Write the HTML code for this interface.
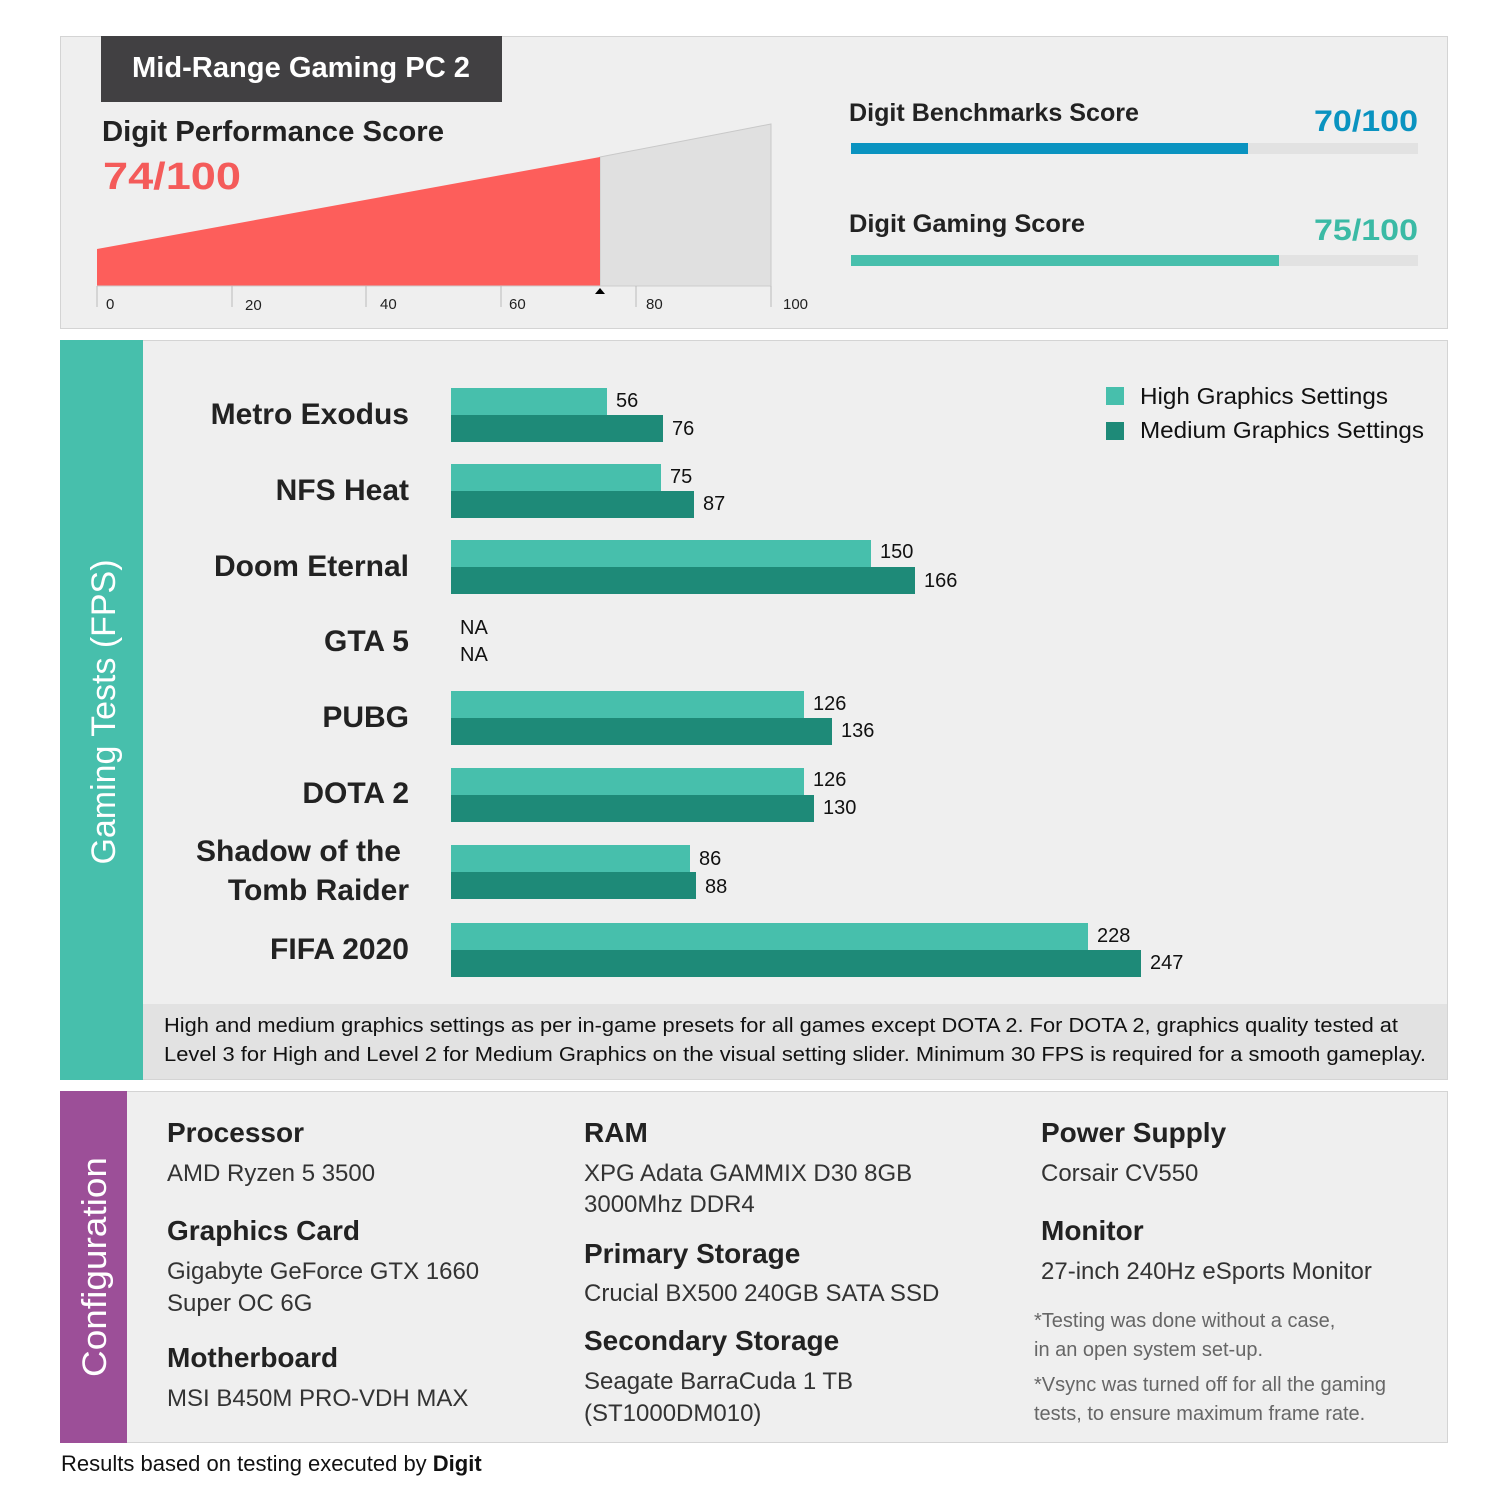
<!DOCTYPE html>
<html><head><meta charset="utf-8"><style>
body{margin:0;background:#fff}
svg{display:block;font-family:"Liberation Sans",sans-serif}
</style></head><body>
<svg width="1500" height="1500" viewBox="0 0 1500 1500">
<!-- top panel -->
<rect x="60.5" y="36.5" width="1387" height="292" fill="#efefef" stroke="#d4d4d4"/>
<rect x="101" y="36" width="401" height="66" fill="#414042"/>
<text x="132" y="77" font-size="29" font-weight="bold" fill="#fff" textLength="338" lengthAdjust="spacingAndGlyphs">Mid-Range Gaming PC 2</text>
<text x="102" y="141" font-size="29" font-weight="bold" fill="#222" textLength="342" lengthAdjust="spacingAndGlyphs">Digit Performance Score</text>
<text x="103" y="189" font-size="38" font-weight="bold" fill="#f45b5a" textLength="138" lengthAdjust="spacingAndGlyphs">74/100</text>
<polygon points="600,157 771,124 771,286 600,286" fill="#e0e0e0" stroke="#c8c8c8"/>
<polygon points="97,249 600,157 600,286 97,286" fill="#fd5e5b"/>
<line x1="97" y1="286" x2="771" y2="286" stroke="#ccc"/>
<g stroke="#bbb"><line x1="97" y1="286" x2="97" y2="307"/><line x1="232" y1="286" x2="232" y2="307"/><line x1="366" y1="286" x2="366" y2="307"/><line x1="501" y1="286" x2="501" y2="307"/><line x1="636" y1="286" x2="636" y2="307"/><line x1="771" y1="286" x2="771" y2="307"/></g>
<polygon points="600,288 595,294 605,294" fill="#000"/>
<g font-size="15" fill="#222"><text x="106" y="309">0</text><text x="245" y="310">20</text><text x="380" y="309">40</text><text x="509" y="309">60</text><text x="646" y="309">80</text><text x="783" y="309">100</text></g>
<text x="849" y="121" font-size="25" font-weight="bold" fill="#222" textLength="290" lengthAdjust="spacingAndGlyphs">Digit Benchmarks Score</text>
<text x="1314" y="131" font-size="30" font-weight="bold" fill="#0a93c0" textLength="104" lengthAdjust="spacingAndGlyphs">70/100</text>
<rect x="851" y="143" width="567" height="11" fill="#e2e2e2"/><rect x="851" y="143" width="397" height="11" fill="#0a93c0"/>
<text x="849" y="232" font-size="25" font-weight="bold" fill="#222" textLength="236" lengthAdjust="spacingAndGlyphs">Digit Gaming Score</text>
<text x="1314" y="240" font-size="30" font-weight="bold" fill="#3bbaa5" textLength="104" lengthAdjust="spacingAndGlyphs">75/100</text>
<rect x="851" y="255" width="567" height="11" fill="#e2e2e2"/><rect x="851" y="255" width="428" height="11" fill="#47bfac"/>

<!-- gaming panel -->
<rect x="60.5" y="340.5" width="1387" height="739" fill="#efefef" stroke="#d4d4d4"/>
<rect x="60" y="340" width="83" height="740" fill="#47bfac"/>
<text transform="translate(115,712) rotate(-90)" text-anchor="middle" font-size="34" fill="#fff" textLength="305" lengthAdjust="spacingAndGlyphs">Gaming Tests (FPS)</text>
<rect x="143" y="1004" width="1304" height="75" fill="#e2e2e2"/>
<g font-size="20" fill="#111"><text x="164" y="1032" textLength="1234" lengthAdjust="spacingAndGlyphs">High and medium graphics settings as per in-game presets for all games except DOTA 2. For DOTA 2, graphics quality tested at</text>
<text x="164" y="1061" textLength="1262" lengthAdjust="spacingAndGlyphs">Level 3 for High and Level 2 for Medium Graphics on the visual setting slider. Minimum 30 FPS is required for a smooth gameplay.</text></g>
<rect x="1106" y="387" width="18" height="18" fill="#47bfac"/><rect x="1106" y="422" width="18" height="18" fill="#1e8a78"/>
<g font-size="23" fill="#111"><text x="1140" y="404" textLength="248" lengthAdjust="spacingAndGlyphs">High Graphics Settings</text><text x="1140" y="438" textLength="284" lengthAdjust="spacingAndGlyphs">Medium Graphics Settings</text></g>
<g font-size="30" font-weight="bold" fill="#222" text-anchor="end">
<text x="409" y="424">Metro Exodus</text><text x="409" y="500">NFS Heat</text><text x="409" y="576">Doom Eternal</text><text x="409" y="651">GTA 5</text><text x="409" y="727">PUBG</text><text x="409" y="803">DOTA 2</text><text x="401" y="861">Shadow of the</text><text x="409" y="900">Tomb Raider</text><text x="409" y="959">FIFA 2020</text></g>
<g fill="#47bfac"><rect x="451" y="388" width="156" height="27"/><rect x="451" y="464" width="210" height="27"/><rect x="451" y="540" width="420" height="27"/><rect x="451" y="691" width="353" height="27"/><rect x="451" y="768" width="353" height="27"/><rect x="451" y="845" width="239" height="27"/><rect x="451" y="923" width="637" height="27"/></g>
<g fill="#1e8a78"><rect x="451" y="415" width="212" height="27"/><rect x="451" y="491" width="243" height="27"/><rect x="451" y="567" width="464" height="27"/><rect x="451" y="718" width="381" height="27"/><rect x="451" y="795" width="363" height="27"/><rect x="451" y="872" width="245" height="27"/><rect x="451" y="950" width="690" height="27"/></g>
<g font-size="20" fill="#111">
<text x="616" y="407">56</text><text x="672" y="435">76</text>
<text x="670" y="483">75</text><text x="703" y="510">87</text>
<text x="880" y="558">150</text><text x="924" y="587">166</text>
<text x="460" y="634">NA</text><text x="460" y="661">NA</text>
<text x="813" y="710">126</text><text x="841" y="737">136</text>
<text x="813" y="786">126</text><text x="823" y="814">130</text>
<text x="699" y="865">86</text><text x="705" y="893">88</text>
<text x="1097" y="942">228</text><text x="1150" y="969">247</text></g>

<!-- config panel -->
<rect x="60.5" y="1091.5" width="1387" height="351" fill="#efefef" stroke="#d4d4d4"/>
<rect x="60" y="1091" width="67" height="352" fill="#9c4f98"/>
<text transform="translate(106,1267) rotate(-90)" text-anchor="middle" font-size="34" fill="#fff" textLength="220" lengthAdjust="spacingAndGlyphs">Configuration</text>
<g font-size="28" font-weight="bold" fill="#222">
<text x="167" y="1142">Processor</text><text x="167" y="1240">Graphics Card</text><text x="167" y="1367">Motherboard</text>
<text x="584" y="1142">RAM</text><text x="584" y="1263">Primary Storage</text><text x="584" y="1350">Secondary Storage</text>
<text x="1041" y="1142">Power Supply</text><text x="1041" y="1240">Monitor</text></g>
<g font-size="24" fill="#333">
<text x="167" y="1181">AMD Ryzen 5 3500</text><text x="167" y="1279">Gigabyte GeForce GTX 1660</text><text x="167" y="1311">Super OC 6G</text><text x="167" y="1406">MSI B450M PRO-VDH MAX</text>
<text x="584" y="1181">XPG Adata GAMMIX D30 8GB</text><text x="584" y="1212">3000Mhz DDR4</text><text x="584" y="1301">Crucial BX500 240GB SATA SSD</text><text x="584" y="1389">Seagate BarraCuda 1 TB</text><text x="584" y="1421">(ST1000DM010)</text>
<text x="1041" y="1181">Corsair CV550</text><text x="1041" y="1279">27-inch 240Hz eSports Monitor</text></g>
<g font-size="20" fill="#666"><text x="1034" y="1327">*Testing was done without a case,</text><text x="1034" y="1356">in an open system set-up.</text><text x="1034" y="1391">*Vsync was turned off for all the gaming</text><text x="1034" y="1420">tests, to ensure maximum frame rate.</text></g>
<text x="61" y="1471" font-size="22" fill="#111">Results based on testing executed by <tspan font-weight="bold">Digit</tspan></text>
</svg>
</body></html>
